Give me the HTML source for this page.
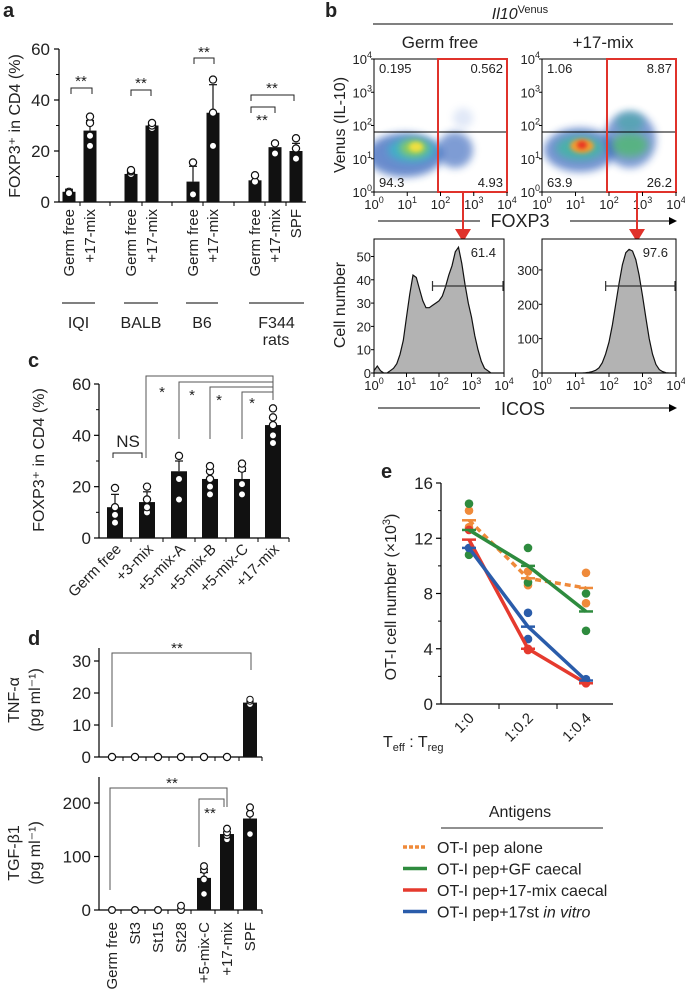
<!DOCTYPE html>
<html><head><meta charset="utf-8"><style>
body{margin:0;background:#fff}
svg{display:block;font-family:"Liberation Sans",sans-serif}
</style></head><body>
<svg id="fig" width="685" height="1006" viewBox="0 0 685 1006" xmlns="http://www.w3.org/2000/svg">
<defs>
<filter id="bl" x="-50%" y="-50%" width="200%" height="200%"><feGaussianBlur stdDeviation="4"/></filter>
<filter id="bl2" x="-50%" y="-50%" width="200%" height="200%"><feGaussianBlur stdDeviation="2"/></filter>
<marker id="ah" markerWidth="8" markerHeight="8" refX="7" refY="4" orient="auto"><path d="M0,0L8,4L0,8z" fill="#000"/></marker>
</defs>
<g id="root"></g>
</svg>
<script>
// ---------- data ----------
const aCats=["Germ free","+17-mix","Germ free","+17-mix","Germ free","+17-mix","Germ free","+17-mix","SPF"];
const aVals=[4,28,11,30,8,35,8.5,21.5,20];
const aErr=[1,4,1,1,6,11,1.5,2,3];
const aDots=[[4,3.5],[22,26,31,33.5],[11,12,12.5],[29,30,31],[3,15.5],[22,35,48],[8,10.5],[19,23],[17,21,25]];
const aGroups=["IQI","BALB","B6","F344"];
const cCats=["Germ free","+3-mix","+5-mix-A","+5-mix-B","+5-mix-C","+17-mix"];
const cVals=[12,14,26,23,23,44];
const cErr=[5,4,4,3,3,3];
const cDots=[[6,9,12,19.5],[10,12,15,20],[15,23,32],[17,20,23,26,28],[17,21,27,29],[37,40,44,47,50.5]];
const dCats=["Germ free","St3","St15","St28","+5-mix-C","+17-mix","SPF"];
const tnfVals=[0,0,0,0,0,0,17];
const tgfVals=[0,0,0,0,60,142,171];
const tgfDots=[[0],[0],[0],[0,8],[30,57,75,82],[132,140,145,152],[142,180,192]];
const eCats=["1:0","1:0.2","1:0.4"];
const eOrange=[13.3,9.1,8.4], eGreen=[12.6,10.0,6.7], eRed=[11.9,4.0,1.5], eBlue=[11.3,5.6,1.7];
const eOrangeDots=[[14,12.8],[9.6,8.6],[9.5,7.3]];
const eGreenDots=[[14.5,10.8],[11.3,8.8],[8,5.3]];
const eRedDots=[[12.6],[4.0,3.9],[1.5]];
const eBlueDots=[[11.3],[6.6,4.7],[1.8]];
const hist1=[1,3,1,0,0,1,2,4,8,14,24,34,42,41,36,31,28,28,29,30,31,33,37,42,46,52,54,47,38,30,24,16,10,5,2,1,0,0,0,0,0];
const hist2=[0,0,0,0,0,0,0,0,0,0,0,0,0,1,2,4,8,15,30,55,90,140,200,260,315,350,360,355,330,285,225,160,100,55,25,10,4,1,0,0,0];
const scatQuads1=["0.195","0.562","94.3","4.93"], scatQuads2=["1.06","8.87","63.9","26.2"];

// ---------- helpers ----------
const NS="http://www.w3.org/2000/svg";
const root=document.getElementById('root');
function el(tag,attrs,parent,txt){const e=document.createElementNS(NS,tag);for(const k in attrs)e.setAttribute(k,attrs[k]);if(txt!==undefined)e.textContent=txt;(parent||root).appendChild(e);return e;}
function line(x1,y1,x2,y2,c,w,p){return el('line',{x1,y1,x2,y2,stroke:c||'#000','stroke-width':w||1.2},p);}
function text(x,y,s,sz,anchor,p,extra){const a={x,y,'font-size':sz||15,'text-anchor':anchor||'middle',fill:'#222'};Object.assign(a,extra||{});return el('text',a,p,s);}

// ---------- panel a ----------
const ga=el('g',{});
text(3,17,'a',20,'start',ga,{'font-weight':'bold'});
const ay=v=>202-v*(153/60), ax=[69,90,131,152,193,213,255,275,296];
line(59,49,59,202,'#000',1.2,ga);line(59,202,306,202,'#000',1.2,ga);
[0,20,40,60].forEach(v=>{line(54,ay(v),59,ay(v),'#000',1.2,ga);text(50,ay(v)+6,String(v),17,'end',ga);});
[10,30,50].forEach(v=>line(56,ay(v),59,ay(v),'#000',1,ga));
[80,110,142,172,203,234,265,286].forEach(x=>line(x,202,x,206,'#000',1,ga));
const yt=text(0,0,'FOXP3⁺ in CD4 (%)',16,'middle',ga,{transform:'translate(20,126) rotate(-90)'});

aVals.forEach((v,i)=>{
 const b=el('rect',{x:ax[i]-6.5,y:ay(v),width:13,height:202-ay(v),fill:'#111'},ga);
 
 line(ax[i],ay(v),ax[i],ay(v+aErr[i]),'#111',1.2,ga);line(ax[i]-4,ay(v+aErr[i]),ax[i]+4,ay(v+aErr[i]),'#111',1.2,ga);
 aDots[i].forEach(d=>el('circle',{cx:ax[i],cy:ay(d),r:3.6,fill:'#fff',stroke:'#111','stroke-width':1.2},ga));
 text(0,0,aCats[i],15,'end',ga,{transform:`translate(${ax[i]+5},209) rotate(-90)`});
});
[[62,95],[124,158],[186,218],[249,304]].forEach((r,i)=>{line(r[0],303,r[1],303,'#000',1,ga);text((r[0]+r[1])/2,328,aGroups[i],16,'middle',ga);});
text(276,345,'rats',16,'middle',ga);
function bracket(x1,x2,y,h,p){el('path',{d:`M${x1},${y+h}V${y}H${x2}V${y+h}`,fill:'none',stroke:'#222','stroke-width':1},p);}
bracket(71,92,88,6,ga);text(81,86,'**',15,'middle',ga);
bracket(131,151,90,6,ga);text(141,88,'**',15,'middle',ga);
bracket(194,214,58,6,ga);text(204,57,'**',15,'middle',ga);
bracket(251,294,95,6,ga);text(272,93,'**',15,'middle',ga);
bracket(251,275,107,6,ga);text(262,125,'**',15,'middle',ga);

// ---------- panel b ----------
const gb=el('g',{});
text(325,17,'b',20,'start',gb,{'font-weight':'bold'});
const tt=el('text',{x:520,y:19,'font-size':16,'text-anchor':'middle','font-style':'italic',fill:'#222'},gb);
tt.innerHTML='Il10<tspan font-size="11" dy="-6" font-style="normal">Venus</tspan>';
line(373,24,673,24,'#000',1,gb);
text(440,48,'Germ free',17,'middle',gb);text(603,48,'+17-mix',17,'middle',gb);
text(0,0,'Venus (IL-10)',16,'middle',gb,{transform:'translate(345,125) rotate(-90)'});
text(0,0,'Cell number',16,'middle',gb,{transform:'translate(345,305) rotate(-90)'});
function logAxis(x0,x1,y,p){for(let i=0;i<=4;i++){const x=x0+(x1-x0)*i/4;line(x,y,x,y+4,'#000',1,p);const t=el('text',{x:x,y:y+17,'font-size':13,'text-anchor':'middle',fill:'#222'},p);t.innerHTML='10<tspan font-size="9" dy="-6">'+i+'</tspan>';}}
function scatter(x0,x1,gx,quads,blobs,name){
 const g=el('g',{},gb);
 const y0=59,y1=192;
 el('rect',{x:x0,y:y0,width:x1-x0,height:y1-y0,fill:'#fff',stroke:'#000','stroke-width':1},g);
 const cg=el('g',{},g);el('clipPath',{id:name+'c'},g).appendChild(el('rect',{x:x0,y:y0,width:x1-x0,height:y1-y0},g));
 cg.setAttribute('clip-path',`url(#${name}c)`);
 blobs.forEach(b=>el('ellipse',{cx:b[0],cy:b[1],rx:b[2],ry:b[3],fill:b[4],opacity:b[5],filter:b[6]||'url(#bl)'},cg));
 line(x0,132,x1,132,'#000',1,g);line(gx,y0,gx,y1,'#000',1,g);
 el('rect',{x:gx,y:y0,width:x1-gx,height:y1-y0,fill:'none',stroke:'#e0322b','stroke-width':2},g);
 text(x0+5,y0+14,quads[0],13,'start',g);text(x1-4,y0+14,quads[1],13,'end',g);
 text(x0+5,y1-5,quads[2],13,'start',g);text(x1-4,y1-5,quads[3],13,'end',g);
 for(let i=0;i<=4;i++){const yy=y1-(y1-y0)*i/4;line(x0-3,yy,x0,yy,'#000',1,g);const t=el('text',{x:x0-2,y:yy+5,'font-size':13,'text-anchor':'end',fill:'#222'},g);t.innerHTML='10<tspan font-size="9" dy="-6">'+i+'</tspan>';}
 logAxis(x0,x1,y1,g);
}
scatter(374,507,438,scatQuads1,[
 [405,155,38,22,'#2a5cb8',0.7],[455,150,18,18,'#2a5cb8',0.6],[463,118,10,10,'#6a8fd8',0.2],
 [412,150,24,12,'#38b8c8',0.8],[414,148,14,8,'#9ad050',0.9],[416,147,7,5,'#f0e040',1,'url(#bl2)']],'scatter-germ-free');
scatter(542,676,607,scatQuads2,[
 [580,150,36,22,'#2a5cb8',0.65],[630,140,26,28,'#2a5cb8',0.6],
 [580,148,24,12,'#40b8a0',0.8],[630,145,18,12,'#50b870',0.8],[630,122,14,10,'#40a8a0',0.6],
 [582,146,12,7,'#f0a030',1,'url(#bl2)'],[582,145,5,4,'#e83020',1,'url(#bl2)']],'scatter-17-mix');
line(378,221,480,221,'#000',1,gb);line(570,221,676,221,'#000',1,gb).setAttribute('marker-end','url(#ah)');
text(520,227,'FOXP3',18,'middle',gb);
[463,637].forEach(x=>{line(x,192,x,232,'#e0322b',2,gb);el('path',{d:`M${x-8},229L${x+8},229L${x},242z`,fill:'#e0322b'},gb);});
function hist(x0,x1,data,ymax,ticks,pct,gl,name){
 const g=el('g',{},gb);
 const y0=239,y1=373,hx=l=>x0+(x1-x0)*l/4,hy=v=>y1-(v/ymax)*(y1-y0);
 let d=`M${hx(0)},${y1}`;data.forEach((v,i)=>d+=`L${hx(i*0.1).toFixed(1)},${hy(v).toFixed(1)}`);d+=`L${hx(4)},${y1}Z`;
 el('rect',{x:x0,y:y0,width:x1-x0,height:y1-y0,fill:'#fff',stroke:'#000','stroke-width':1},g);
 el('path',{d,fill:'#b3b3b3',stroke:'#111','stroke-width':1.2},g);
 ticks.forEach(v=>{line(x0-3,hy(v),x0,hy(v),'#000',1,g);text(x0-3,hy(v)+5,String(v),13,'end',g);});
 line(hx(gl[0]),gl[2],hx(4),gl[2],'#333',1.2,g);line(hx(gl[0]),gl[2]-5,hx(gl[0]),gl[2]+5,'#333',1.2,g);line(hx(4)-1,gl[2]-5,hx(4)-1,gl[2]+5,'#333',1.2,g);
 text(x1-8,257,pct,13,'end',g);
 logAxis(x0,x1,y1,g);
}
hist(374,504,hist1,57.5,[0,10,20,30,40,50],'61.4',[1.8,0,286],'histogram-germ-free');
hist(542,676,hist2,390,[0,100,200,300],'97.6',[1.9,0,286],'histogram-17-mix');
line(378,408,480,408,'#000',1,gb);line(570,408,676,408,'#000',1,gb).setAttribute('marker-end','url(#ah)');
text(523,415,'ICOS',18,'middle',gb);

// ---------- panel c ----------
const gc=el('g',{});
text(28,367,'c',20,'start',gc,{'font-weight':'bold'});
const cy=v=>538-v*(154/60), cx=[115,147,179,210,242,273];
line(99,384,99,538,'#000',1.2,gc);line(99,538,289,538,'#000',1.2,gc);
[0,20,40,60].forEach(v=>{line(94,cy(v),99,cy(v),'#000',1.2,gc);text(91,cy(v)+6,String(v),17,'end',gc);});
[10,30,50].forEach(v=>line(96,cy(v),99,cy(v),'#000',1,gc));
[131,163,195,226,258,289].forEach(x=>line(x,538,x,542,'#000',1,gc));
text(0,0,'FOXP3⁺ in CD4 (%)',16,'middle',gc,{transform:'translate(44,460) rotate(-90)'});
cVals.forEach((v,i)=>{
 const b=el('rect',{x:cx[i]-8,y:cy(v),width:16,height:538-cy(v),fill:'#111'},gc);
 
 line(cx[i],cy(v),cx[i],cy(v+cErr[i]),'#111',1.2,gc);line(cx[i]-4,cy(v+cErr[i]),cx[i]+4,cy(v+cErr[i]),'#111',1.2,gc);
 cDots[i].forEach(d=>el('circle',{cx:cx[i],cy:cy(d),r:3.6,fill:'#fff',stroke:'#111','stroke-width':1.2},gc));
 text(0,0,cCats[i],15,'end',gc,{transform:`translate(${cx[i]+7},550) rotate(-45)`});
});
el('path',{d:'M146,458V376H273V400',fill:'none',stroke:'#555','stroke-width':1},gc);
[[179,382,439],[210,387,439],[242,392,439]].forEach(r=>el('path',{d:`M${r[0]},${r[2]}V${r[1]}H273`,fill:'none',stroke:'#555','stroke-width':1},gc));
[[162,397],[192,400],[219,405],[252,408]].forEach(s=>text(s[0],s[1],'*',15,'middle',gc));
bracket(113,142,453,5,gc);text(128,447,'NS',17,'middle',gc);

// ---------- panel d ----------
const gd=el('g',{});
text(28,645,'d',20,'start',gd,{'font-weight':'bold'});
const dx=[112,135,158,181,204,227,250];
const ty=v=>757-v*(96/30), gy=v=>910-v*(107/200);
line(99,648,99,757,'#000',1.2,gd);line(99,757,262,757,'#000',1.2,gd);
[0,10,20,30].forEach(v=>{line(94,ty(v),99,ty(v),'#000',1.2,gd);text(91,ty(v)+6,String(v),17,'end',gd);});
[123,146,169,192,215,239,262].forEach(x=>line(x,757,x,761,'#000',1,gd));
tnfVals.forEach((v,i)=>{if(v>0){const b=el('rect',{x:dx[i]-7,y:ty(v),width:14,height:757-ty(v),fill:'#111'},gd);
 [16.5,17.5,18].forEach(d=>el('circle',{cx:dx[i],cy:ty(d),r:3.2,fill:'#fff',stroke:'#111','stroke-width':1},gd));}
 else el('circle',{cx:dx[i],cy:ty(v),r:3.6,fill:'#fff',stroke:'#111','stroke-width':1.2},gd);});
el('path',{d:'M112,727V653H251V670',fill:'none',stroke:'#555','stroke-width':1},gd);text(177,653,'**',15,'middle',gd);
text(0,0,'TNF-α',16,'middle',gd,{transform:'translate(19,700) rotate(-90)'});
text(0,0,'(pg ml⁻¹)',16,'middle',gd,{transform:'translate(40,700) rotate(-90)'});
line(99,777,99,910,'#000',1.2,gd);line(99,910,262,910,'#000',1.2,gd);
[0,100,200].forEach(v=>{line(94,gy(v),99,gy(v),'#000',1.2,gd);text(91,gy(v)+6,String(v),17,'end',gd);});
[121,145,168,191,215,238,262].forEach(x=>line(x,910,x,914,'#000',1,gd));
tgfVals.forEach((v,i)=>{
 if(v>0){const b=el('rect',{x:dx[i]-7,y:gy(v),width:14,height:910-gy(v),fill:'#111'},gd);
  line(dx[i],gy(v),dx[i],gy(v+10),'#111',1.2,gd);line(dx[i]-4,gy(v+10),dx[i]+4,gy(v+10),'#111',1.2,gd);}
 tgfDots[i].forEach(d=>el('circle',{cx:dx[i],cy:gy(d),r:3.4,fill:'#fff',stroke:'#111','stroke-width':1.2},gd));
 text(0,0,dCats[i],15,'end',gd,{transform:`translate(${dx[i]+5},922) rotate(-90)`});
});
el('path',{d:'M110,890V788H227V807',fill:'none',stroke:'#555','stroke-width':1},gd);text(172,788,'**',15,'middle',gd);
el('path',{d:'M199,847V799H224V807',fill:'none',stroke:'#555','stroke-width':1},gd);text(210,818,'**',15,'middle',gd);
text(0,0,'TGF-β1',16,'middle',gd,{transform:'translate(19,853) rotate(-90)'});
text(0,0,'(pg ml⁻¹)',16,'middle',gd,{transform:'translate(40,853) rotate(-90)'});

// ---------- panel e ----------
const ge=el('g',{});
text(381,478,'e',20,'start',ge,{'font-weight':'bold'});
const ey=v=>704-v*(221/16), ex=[469,528,586];
line(441,483,441,704,'#000',1.2,ge);line(441,704,613,704,'#000',1.2,ge);
[0,4,8,12,16].forEach(v=>{line(436,ey(v),441,ey(v),'#000',1.2,ge);text(433,ey(v)+6,String(v),17,'end',ge);});
[2,6,10,14].forEach(v=>line(438,ey(v),441,ey(v),'#000',1,ge));
[499,557].forEach(x=>line(x,704,x,709,'#000',1,ge));
eCats.forEach((c,i)=>text(0,0,c,15,'end',ge,{transform:`translate(${ex[i]+6},${719}) rotate(-45)`}));
const et=el('text',{x:0,y:0,'font-size':16,'text-anchor':'middle',fill:'#222',transform:'translate(396,597) rotate(-90)'},ge);
et.innerHTML='OT-I cell number (×10<tspan font-size="11" dy="-6">3</tspan><tspan dy="6">)</tspan>';
const tr=el('text',{x:383,y:747,'font-size':16,fill:'#222'},ge);
tr.innerHTML='T<tspan font-size="11" dy="4">eff</tspan><tspan dy="-4"> : T</tspan><tspan font-size="11" dy="4">reg</tspan>';
const series=[['orange',eOrange,eOrangeDots,'#ef8a3a','6,4'],['green',eGreen,eGreenDots,'#2e8b3e',''],['red',eRed,eRedDots,'#e53a2e',''],['blue',eBlue,eBlueDots,'#2a5caa','']];
series.forEach(s=>{s[2].forEach((arr,i)=>arr.forEach(d=>{const c=el('circle',{cx:ex[i],cy:ey(d),r:4.3,fill:s[3]},ge);}));});
series.forEach(s=>{
 const p=el('polyline',{points:s[1].map((v,i)=>ex[i]+','+ey(v)).join(' '),fill:'none',stroke:s[3],'stroke-width':3.5,'stroke-dasharray':s[4]},ge);
 
 s[1].forEach((v,i)=>line(ex[i]-7,ey(v),ex[i]+7,ey(v),s[3],2.5,ge));
});
text(520,817,'Antigens',16,'middle',ge);line(441,828,603,828,'#222',1,ge);
const leg=[['OT-I pep alone','#ef8a3a','4,2'],['OT-I pep+GF caecal','#2e8b3e',''],['OT-I pep+17-mix caecal','#e53a2e',''],['OT-I pep+17st ','#2a5caa','']];
leg.forEach((l,i)=>{const y=847+i*21.5;const g=el('g',{},ge);
 line(403,y,427,y,l[1],3.5,g).setAttribute('stroke-dasharray',l[2]);
 const t=text(437,y+6,l[0],16,'start',g);if(i==3){el('tspan',{'font-style':'italic'},t,'in vitro');}});
</script>
</body></html>
